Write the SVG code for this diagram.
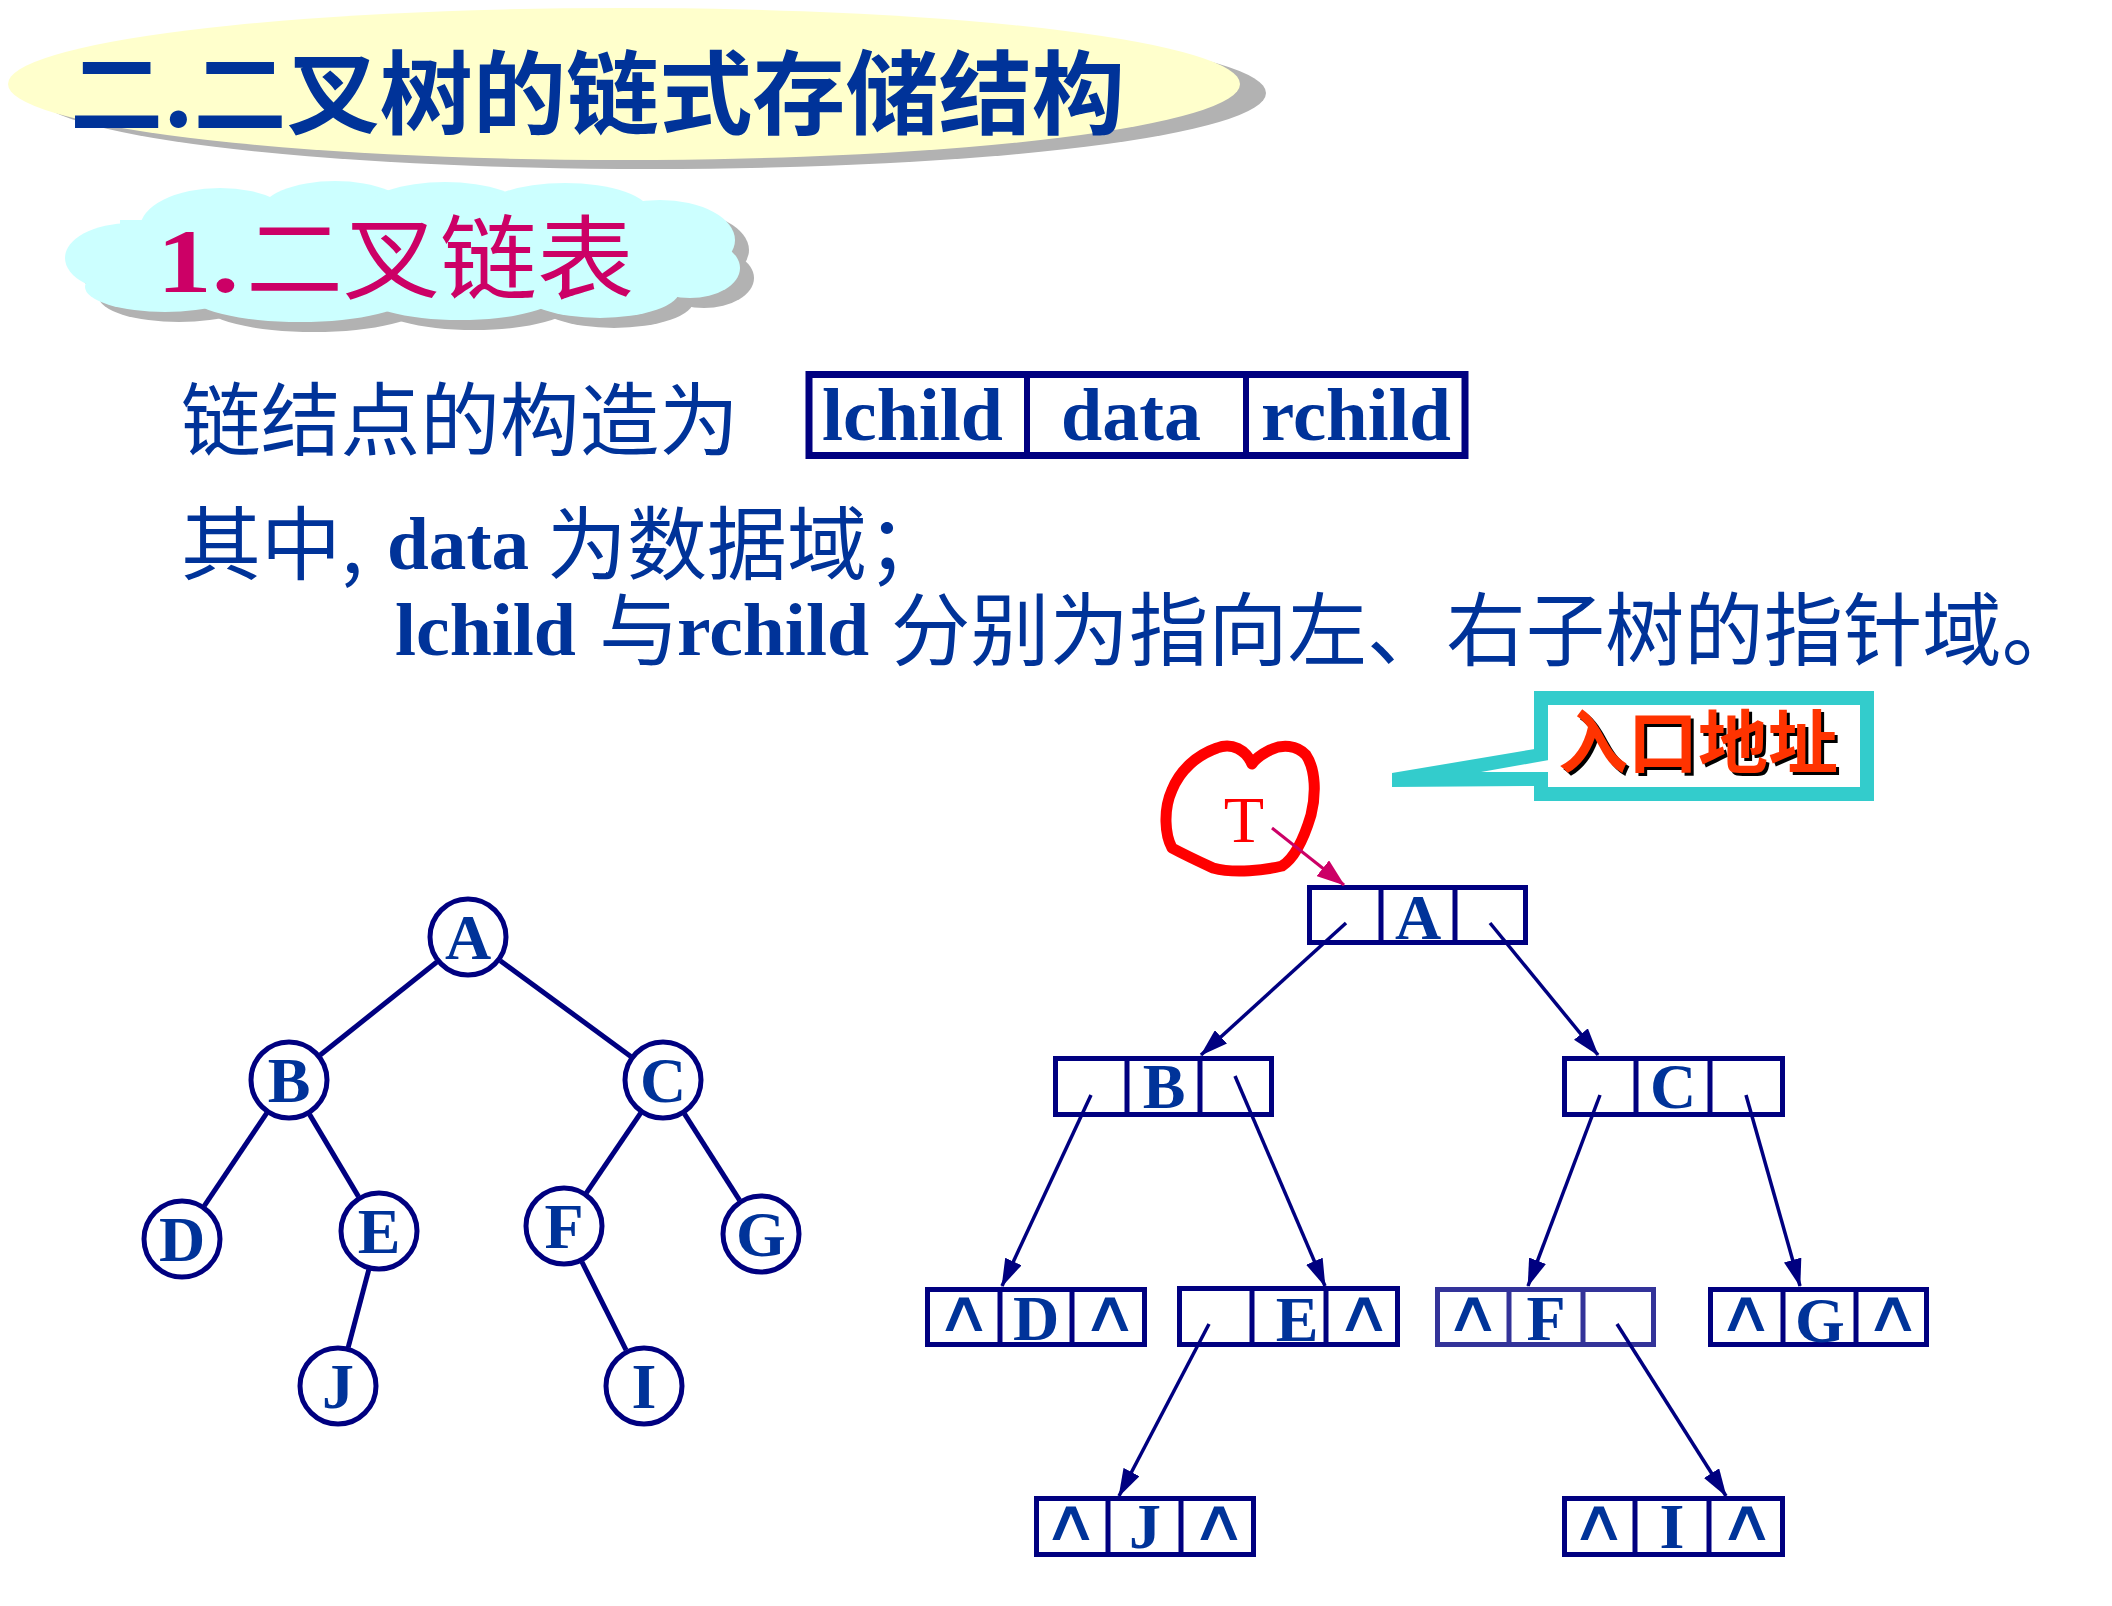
<svg xmlns="http://www.w3.org/2000/svg" width="2112" height="1606" viewBox="0 0 2112 1606">
<style>
.cjk{font-family:"Noto Sans CJK SC","Noto Sans",sans-serif;fill:#003399}
.ser{font-family:"Liberation Serif","Times New Roman",serif;font-weight:bold;fill:#003399}
.box{fill:#fff;stroke:#000080;stroke-width:5}
.div{stroke:#000080;stroke-width:5}
.lbl{font-family:"Liberation Serif","Times New Roman",serif;font-weight:bold;font-size:64px;fill:#003399;text-anchor:middle}
.nil{font-family:"DejaVu Sans","Liberation Sans",sans-serif;font-size:58px;fill:#003399;text-anchor:middle}
.circ{fill:#fff;stroke:#000080;stroke-width:5}
.edge{stroke:#000080;stroke-width:5;fill:none}
.ptr{stroke:#000080;stroke-width:3.5;fill:none;marker-end:url(#ah)}
</style>
<defs>
<marker id="ah" markerUnits="userSpaceOnUse" markerWidth="28" markerHeight="18" refX="27" refY="9" orient="auto"><path d="M0,0 L28,9 L0,18 Z" fill="#000080"/></marker>
<marker id="ahm" markerUnits="userSpaceOnUse" markerWidth="28" markerHeight="20" refX="27" refY="10" orient="auto"><path d="M0,0 L28,10 L0,20 Z" fill="#CC0066"/></marker>
</defs>

<!-- title -->
<g id="title">
<ellipse cx="650" cy="93" rx="616" ry="76" fill="#B2B2B2"/>
<ellipse cx="624" cy="84" rx="616" ry="76" fill="#FFFFCC"/>
<text x="70" y="127" class="cjk" font-size="91" font-weight="bold" textLength="1055" lengthAdjust="spacingAndGlyphs">二.二叉树的链式存储结构</text>
</g>

<!-- cloud subtitle -->
<g id="subtitle">
<g fill="#B2B2B2" transform="translate(14,10)">
<ellipse cx="130" cy="258" rx="65" ry="35"/><ellipse cx="220" cy="228" rx="80" ry="40"/><ellipse cx="335" cy="213" rx="75" ry="32"/><ellipse cx="445" cy="210" rx="80" ry="28"/><ellipse cx="565" cy="213" rx="85" ry="30"/><ellipse cx="660" cy="240" rx="75" ry="40"/><ellipse cx="690" cy="268" rx="50" ry="30"/><ellipse cx="600" cy="290" rx="80" ry="28"/><ellipse cx="460" cy="293" rx="100" ry="27"/><ellipse cx="300" cy="295" rx="110" ry="27"/><ellipse cx="165" cy="287" rx="80" ry="25"/><rect x="120" y="220" width="580" height="75"/>
</g>
<g fill="#CCFFFF">
<ellipse cx="130" cy="258" rx="65" ry="35"/><ellipse cx="220" cy="228" rx="80" ry="40"/><ellipse cx="335" cy="213" rx="75" ry="32"/><ellipse cx="445" cy="210" rx="80" ry="28"/><ellipse cx="565" cy="213" rx="85" ry="30"/><ellipse cx="660" cy="240" rx="75" ry="40"/><ellipse cx="690" cy="268" rx="50" ry="30"/><ellipse cx="600" cy="290" rx="80" ry="28"/><ellipse cx="460" cy="293" rx="100" ry="27"/><ellipse cx="300" cy="295" rx="110" ry="27"/><ellipse cx="165" cy="287" rx="80" ry="25"/><rect x="120" y="220" width="580" height="75"/>
</g>
<text x="157" y="292" font-family="Liberation Serif,serif" font-weight="bold" font-size="92" fill="#CC0066" textLength="82" lengthAdjust="spacingAndGlyphs">1.</text>
<text x="246" y="292" font-family="Noto Sans CJK SC,sans-serif" font-size="92" fill="#CC0066" textLength="388" lengthAdjust="spacingAndGlyphs">二叉链表</text>
</g>

<!-- node structure line -->
<g id="structure">
<text x="181" y="449" class="cjk" font-size="80" textLength="558" lengthAdjust="spacingAndGlyphs">链结点的构造为</text>
<rect x="809" y="374.5" width="656" height="81" fill="#fff" stroke="#000080" stroke-width="7"/>
<line x1="1027" y1="374" x2="1027" y2="456" stroke="#000080" stroke-width="6"/>
<line x1="1246" y1="374" x2="1246" y2="456" stroke="#000080" stroke-width="6"/>
<text x="822" y="440" class="ser" font-size="74" textLength="181" lengthAdjust="spacingAndGlyphs">lchild</text>
<text x="1061" y="440" class="ser" font-size="74" textLength="140" lengthAdjust="spacingAndGlyphs">data</text>
<text x="1261" y="440" class="ser" font-size="74" textLength="190" lengthAdjust="spacingAndGlyphs">rchild</text>
</g>

<g id="desc">
<text x="181" y="573" class="cjk" font-size="80">其中,</text>
<text x="387" y="569" class="ser" font-size="74" textLength="142" lengthAdjust="spacingAndGlyphs">data</text>
<text x="547" y="573" class="cjk" font-size="80" textLength="400" lengthAdjust="spacingAndGlyphs">为数据域；</text>
<text x="395" y="655" class="ser" font-size="74" textLength="181" lengthAdjust="spacingAndGlyphs">lchild</text>
<text x="599" y="659" class="cjk" font-size="80">与</text>
<text x="677" y="655" class="ser" font-size="74" textLength="192" lengthAdjust="spacingAndGlyphs">rchild</text>
<text x="891" y="659" class="cjk" font-size="80" textLength="1190" lengthAdjust="spacingAndGlyphs">分别为指向左、右子树的指针域。</text>
</g>

<!-- callout -->
<g id="callout">
<rect x="1541" y="698" width="326" height="96" fill="#fff" stroke="#33CCCC" stroke-width="14"/>
<polygon points="1392,773 1541,748 1541,786 1392,787" fill="#33CCCC"/>
<polygon points="1481,772 1549,760 1549,772" fill="#fff"/>
<text x="1561" y="771" font-family="Noto Sans CJK SC,sans-serif" font-weight="bold" font-size="69" fill="#000" textLength="280" lengthAdjust="spacingAndGlyphs">入口地址</text>
<text x="1558" y="768" font-family="Noto Sans CJK SC,sans-serif" font-weight="bold" font-size="69" fill="#FF3300" textLength="280" lengthAdjust="spacingAndGlyphs">入口地址</text>
</g>

<!-- T pointer -->
<g id="T">
<path d="M1252,764 C1246,750 1232,742 1217,748 C1197,755 1180,770 1172,790 C1163,810 1165,835 1172,848 C1185,855 1200,862 1213,868 C1235,874 1265,870 1282,866 C1295,858 1305,835 1311,815 C1316,795 1316,770 1306,755 C1297,745 1282,744 1270,750 C1262,754 1256,758 1252,764 Z" fill="none" stroke="#FF0000" stroke-width="11" stroke-linejoin="round"/>
<text x="1244" y="842" font-family="Liberation Serif,serif" font-size="66" fill="#FF0000" text-anchor="middle">T</text>
</g>

<!-- binary tree (left) -->
<g id="tree-edges">
<line class="edge" x1="436.8" y1="962" x2="320.2" y2="1055"/>
<line class="edge" x1="500.3" y1="960.7" x2="630.8" y2="1056.4"/>
<line class="edge" x1="266.7" y1="1113.2" x2="204.3" y2="1205.8"/>
<line class="edge" x1="309.5" y1="1114.4" x2="358.5" y2="1196.6"/>
<line class="edge" x1="640.6" y1="1113.1" x2="586.4" y2="1192.9"/>
<line class="edge" x1="684.5" y1="1113.8" x2="739.5" y2="1200.2"/>
<line class="edge" x1="368.8" y1="1269.7" x2="348.2" y2="1347.3"/>
<line class="edge" x1="581.9" y1="1261.8" x2="626.1" y2="1350.2"/>
</g>
<g id="tA"><circle class="circ" cx="468" cy="937" r="38"/><text class="lbl" x="468" y="959">A</text></g>
<g id="tB"><circle class="circ" cx="289" cy="1080" r="38"/><text class="lbl" x="289" y="1102">B</text></g>
<g id="tC"><circle class="circ" cx="663" cy="1080" r="38"/><text class="lbl" x="663" y="1102">C</text></g>
<g id="tD"><circle class="circ" cx="182" cy="1239" r="38"/><text class="lbl" x="182" y="1261">D</text></g>
<g id="tE"><circle class="circ" cx="379" cy="1231" r="38"/><text class="lbl" x="379" y="1253">E</text></g>
<g id="tF"><circle class="circ" cx="564" cy="1226" r="38"/><text class="lbl" x="564" y="1248">F</text></g>
<g id="tG"><circle class="circ" cx="761" cy="1234" r="38"/><text class="lbl" x="761" y="1256">G</text></g>
<g id="tJ"><circle class="circ" cx="338" cy="1386" r="38"/><text class="lbl" x="338" y="1408">J</text></g>
<g id="tI"><circle class="circ" cx="644" cy="1386" r="38"/><text class="lbl" x="644" y="1408">I</text></g>

<!-- linked nodes -->
<g id="nA"><rect class="box" x="1309.5" y="887.5" width="216" height="55"/><line class="div" x1="1381" y1="887" x2="1381" y2="943"/><line class="div" x1="1455" y1="887" x2="1455" y2="943"/><text class="lbl" x="1418" y="939">A</text></g>
<g id="nB"><rect class="box" x="1055.5" y="1058.5" width="216" height="56"/><line class="div" x1="1127" y1="1058" x2="1127" y2="1115"/><line class="div" x1="1200" y1="1058" x2="1200" y2="1115"/><text class="lbl" x="1164" y="1108">B</text></g>
<g id="nC"><rect class="box" x="1564.5" y="1058.5" width="218" height="56"/><line class="div" x1="1636" y1="1058" x2="1636" y2="1115"/><line class="div" x1="1710" y1="1058" x2="1710" y2="1115"/><text class="lbl" x="1673" y="1108">C</text></g>
<g id="nD"><rect class="box" x="927.5" y="1289.5" width="217" height="55"/><line class="div" x1="1000" y1="1289" x2="1000" y2="1345"/><line class="div" x1="1072" y1="1289" x2="1072" y2="1345"/><text class="nil" transform="matrix(1.35 0 0 1 964 1331)">∧</text><text class="lbl" x="1036" y="1340">D</text><text class="nil" transform="matrix(1.35 0 0 1 1110 1331)">∧</text></g>
<g id="nE"><rect class="box" x="1179.5" y="1288.5" width="218" height="56"/><line class="div" x1="1252" y1="1288" x2="1252" y2="1345"/><line class="div" x1="1326" y1="1288" x2="1326" y2="1345"/><text class="lbl" x="1297" y="1341">E</text><text class="nil" transform="matrix(1.35 0 0 1 1364 1331)">∧</text></g>
<g id="nF"><rect class="box" x="1437.5" y="1289.5" width="216" height="55" style="stroke:#333399"/><line class="div" x1="1509" y1="1289" x2="1509" y2="1345" style="stroke:#333399"/><line class="div" x1="1583" y1="1289" x2="1583" y2="1345" style="stroke:#333399"/><text class="nil" transform="matrix(1.35 0 0 1 1473 1331)">∧</text><text class="lbl" x="1546" y="1340">F</text></g>
<g id="nG"><rect class="box" x="1710.5" y="1289.5" width="216" height="55"/><line class="div" x1="1783" y1="1289" x2="1783" y2="1345"/><line class="div" x1="1856" y1="1289" x2="1856" y2="1345"/><text class="nil" transform="matrix(1.35 0 0 1 1746 1331)">∧</text><text class="lbl" x="1820" y="1342">G</text><text class="nil" transform="matrix(1.35 0 0 1 1893 1331)">∧</text></g>
<g id="nJ"><rect class="box" x="1036.5" y="1498.5" width="217" height="56"/><line class="div" x1="1108" y1="1498" x2="1108" y2="1555"/><line class="div" x1="1181" y1="1498" x2="1181" y2="1555"/><text class="nil" transform="matrix(1.35 0 0 1 1071 1540)">∧</text><text class="lbl" x="1145" y="1548">J</text><text class="nil" transform="matrix(1.35 0 0 1 1219 1540)">∧</text></g>
<g id="nI"><rect class="box" x="1564.5" y="1498.5" width="218" height="56"/><line class="div" x1="1635" y1="1498" x2="1635" y2="1555"/><line class="div" x1="1709" y1="1498" x2="1709" y2="1555"/><text class="nil" transform="matrix(1.35 0 0 1 1599 1540)">∧</text><text class="lbl" x="1672" y="1548">I</text><text class="nil" transform="matrix(1.35 0 0 1 1747 1540)">∧</text></g>

<!-- connectors -->
<g id="connectors">
<line x1="1272" y1="828" x2="1344" y2="885" stroke="#CC0066" stroke-width="3" marker-end="url(#ahm)"/>
<line class="ptr" x1="1346" y1="923" x2="1201" y2="1055"/>
<line class="ptr" x1="1490" y1="923" x2="1598" y2="1055"/>
<line class="ptr" x1="1091" y1="1095" x2="1002" y2="1286"/>
<line class="ptr" x1="1235" y1="1076" x2="1325" y2="1286"/>
<line class="ptr" x1="1600" y1="1095" x2="1528" y2="1286"/>
<line class="ptr" x1="1746" y1="1095" x2="1800" y2="1286"/>
<line class="ptr" x1="1209" y1="1324" x2="1119" y2="1496"/>
<line class="ptr" x1="1617" y1="1324" x2="1726" y2="1496"/>
</g>
</svg>
